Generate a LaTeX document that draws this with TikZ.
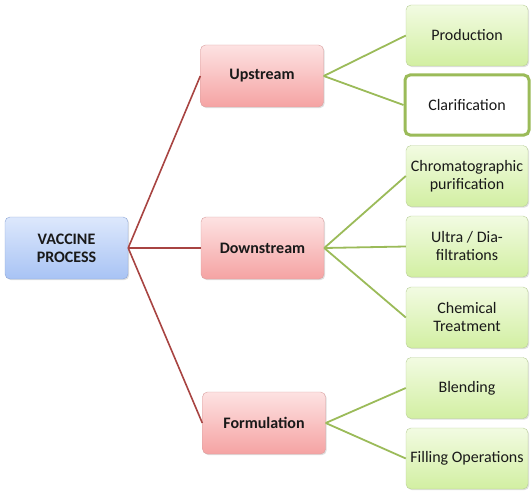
\documentclass[tikz,border=0pt]{standalone}
\usepackage{fontspec}
\setmainfont{Carlito}
\usetikzlibrary{shadows}
\definecolor{rootTop}{HTML}{DDE8FC}
\definecolor{rootBot}{HTML}{A8C3F4}
\definecolor{rootLine}{HTML}{8DA6D6}
\definecolor{stageTop}{HTML}{FDE2E2}
\definecolor{stageBot}{HTML}{F5A3A3}
\definecolor{stageLine}{HTML}{D9A0A0}
\definecolor{stepTop}{HTML}{F2FBE2}
\definecolor{stepBot}{HTML}{D2EFA2}
\definecolor{stepLine}{HTML}{B9CF98}
\definecolor{redEdge}{HTML}{A84442}
\definecolor{greenEdge}{HTML}{9BBB59}
\newcommand{\boxFont}{\fontsize{16}{18}\selectfont}

\begin{document}
\begin{tikzpicture}[x=1pt, y=-1pt, font=\boxFont, text=black!90,
   basebox/.style={rounded corners=5pt, align=center, inner sep=2pt,
      drop shadow={shadow xshift=1.2pt, shadow yshift=-1.2pt, opacity=0.25}},
   rootbox/.style={basebox, draw=rootLine, top color=rootTop, bottom color=rootBot,
      minimum width=123pt, minimum height=62pt, font=\boxFont\bfseries},
   stagebox/.style={basebox, draw=stageLine, top color=stageTop, bottom color=stageBot,
      minimum width=123pt, minimum height=62pt, font=\boxFont\bfseries},
   stepbox/.style={basebox, draw=stepLine, top color=stepTop, bottom color=stepBot,
      minimum width=122pt, minimum height=61pt},
   markbox/.style={basebox, draw=greenEdge, line width=3pt, fill=white,
      minimum width=124pt, minimum height=60pt},
   rootedge/.style={draw=redEdge, line width=1.6pt},
   stepedge/.style={draw=greenEdge, line width=1.8pt}]
   \useasboundingbox (0,0) rectangle (532,492);

   % root and stages
   \node[rootbox] (vaccine) at (66.5,248) {VACCINE\\PROCESS};
   \node[stagebox] (upstream) at (262,76) {Upstream};
   \node[stagebox] (downstream) at (262.5,248) {Downstream};
   \node[stagebox] (formulation) at (264,423) {Formulation};

   % steps
   \node[stepbox] (production) at (467,35.5) {Production};
   \node[markbox] (clarification) at (467,105) {Clarification};
   \node[stepbox] (chromato) at (467,176) {Chromatographic\\purification};
   \node[stepbox] (ultra) at (467,246.5) {Ultra / Dia-\\filtrations};
   \node[stepbox] (chemical) at (467,317.5) {Chemical\\Treatment};
   \node[stepbox] (blending) at (467,388) {Blending};
   \node[stepbox] (filling) at (467,458.5) {Filling Operations};

   \foreach \stage in {upstream,downstream,formulation}
   {%
      \draw[rootedge] (vaccine.east) -- (\stage.west);
   }
   \foreach \stage/\step in {upstream/production,upstream/clarification,
      downstream/chromato,downstream/ultra,downstream/chemical,
      formulation/blending,formulation/filling}
   {%
      \draw[stepedge] (\stage.east) -- (\step.west);
   }
\end{tikzpicture}
\end{document}
